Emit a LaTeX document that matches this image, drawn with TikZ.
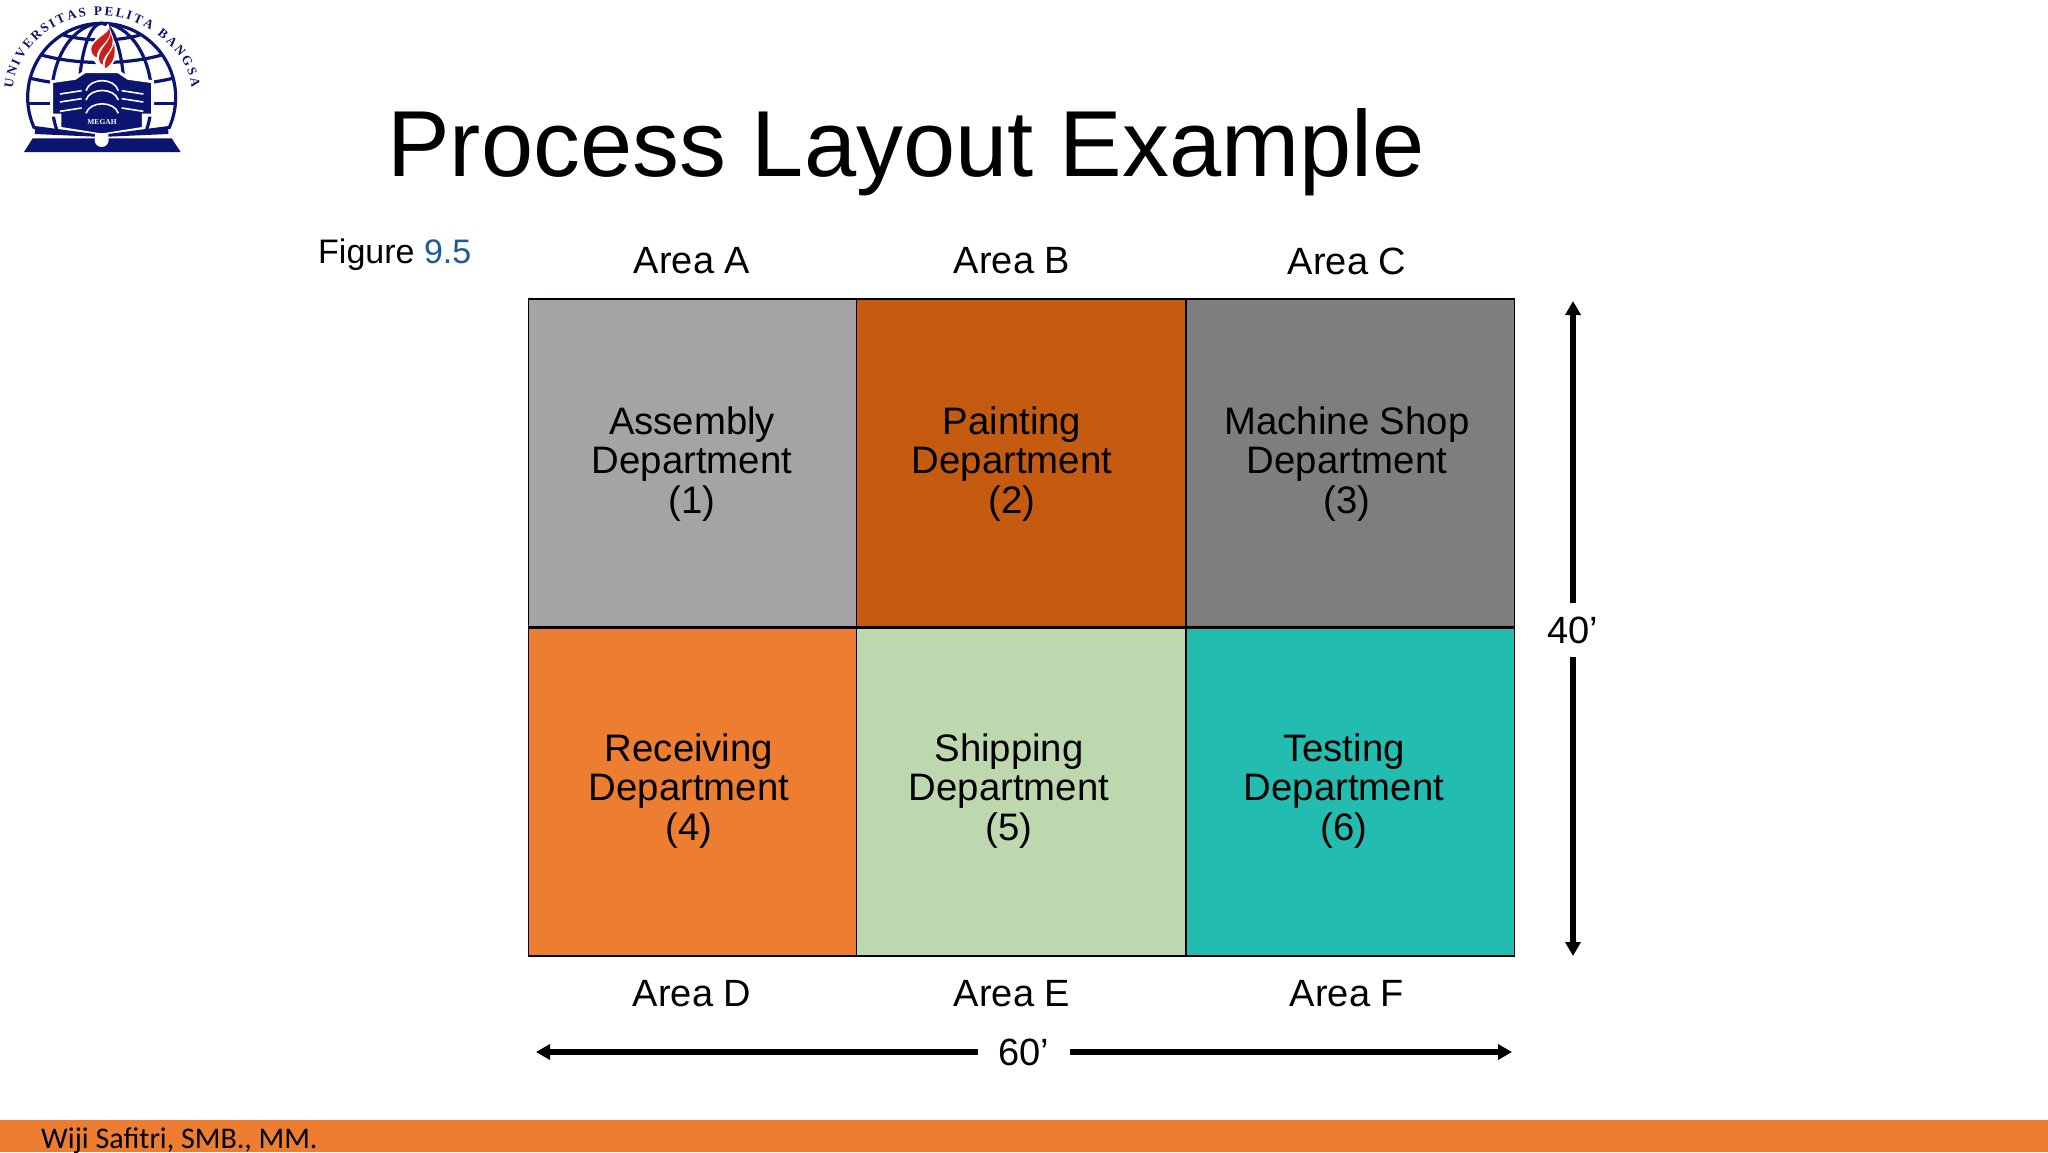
\documentclass[tikz,border=0pt]{standalone}
\usepackage{fontspec}
\setmainfont{Liberation Sans}
\newfontfamily\footfont{Carlito}
\newfontfamily\logofont{Liberation Serif}
\usetikzlibrary{
  arrows.meta,
  decorations.text
}
\definecolor{assembly}{HTML}{A5A3A6}
\definecolor{painting}{HTML}{C55A11}
\definecolor{machine}{HTML}{7F7D80}
\definecolor{receiving}{HTML}{ED7D31}
\definecolor{shipping}{HTML}{BDD7AE}
\definecolor{testing}{HTML}{22BDB0}
\definecolor{logonavy}{HTML}{0B1470}
\definecolor{logored}{HTML}{C8201C}
\definecolor{figblue}{HTML}{1F5A96}

\begin{document}
\begin{tikzpicture}[
  x=1pt, y=-1pt,
  cell/.style={draw=black, line width=1.3pt, minimum width=328.5pt, minimum height=328pt,
               inner sep=0pt},
  dept/.style={align=center, font=\fontsize{38.3}{39.2}\selectfont, text=black},
  area/.style={font=\fontsize{38}{40}\selectfont, text=black},
  dim/.style={font=\fontsize{38}{40}\selectfont, inner sep=0pt},
  arr/.style={-{Stealth[length=14pt, width=15pt, inset=0pt]}, line width=6.5pt, black},
  globe/.style={draw=logonavy, line width=3.2pt},
  page/.style={line width=1.6pt, white}
]
  \useasboundingbox (0,0) rectangle (2048,1152);

  % Logo
  \begin{scope}[scale=1/3]
    \begin{scope}
      \clip (60,40) rectangle (560,385);
      \draw[globe] (305,292) circle [x radius=222, y radius=222];
      \draw[globe] (305,292) circle [x radius=150, y radius=222];
      \draw[globe] (305,292) circle [x radius=68, y radius=222];
      \draw[globe] (190,105) .. controls (260,125) and (350,125) .. (420,105);
      \draw[globe] (125,165) .. controls (230,195) and (380,195) .. (485,165);
      \draw[globe] (92,235) .. controls (220,265) and (390,265) .. (518,235);
      \draw[globe] (85,310) -- (525,310);
    \end{scope}
    % book
    \fill[logonavy, draw=white, line width=3pt] (155,245) -- (225,235) -- (255,215) -- (355,215)
      -- (385,235) -- (458,245) -- (458,345) -- (430,345) -- (430,385) -- (305,405)
      -- (180,385) -- (180,345) -- (155,345) -- cycle;
    \draw[page] (180,282) -- (245,272) (180,306) -- (245,296) (180,334) -- (245,324);
    \draw[page] (365,272) -- (430,282) (365,296) -- (430,306) (365,324) -- (430,334);
    \draw[page] (258,272) .. controls (270,232) and (343,232) .. (355,272);
    \draw[page] (258,300) .. controls (270,262) and (343,262) .. (355,300);
    \draw[page] (258,340) .. controls (270,302) and (343,302) .. (355,340);
    \fill[logonavy] (105,378) -- (285,402) -- (285,410) -- (105,402) -- cycle;
    \fill[logonavy] (505,378) -- (325,402) -- (325,410) -- (505,402) -- cycle;
    \fill[logonavy] (72,456) -- (98,415) -- (515,415) -- (542,456) -- cycle;
    \fill[white] (305,420) circle [radius=21];
    % flame
    \fill[white] (325,70) .. controls (335,110) and (360,150) .. (345,180) .. controls (335,205) and (300,215) .. (280,180)
      .. controls (250,150) and (290,110) .. (325,70) -- cycle;
    \fill[logored] (328,74) .. controls (335,100) and (295,105) .. (275,140) .. controls (270,155) and (280,168) .. (290,172)
      .. controls (290,140) and (325,130) .. (330,100) -- cycle;
    \fill[logored] (332,100) .. controls (330,130) and (295,145) .. (297,178) .. controls (298,188) and (303,192) .. (308,195)
      .. controls (305,165) and (340,155) .. (338,120) -- cycle;
    \fill[logored] (342,130) .. controls (340,155) and (310,170) .. (315,205) .. controls (335,195) and (350,170) .. (342,130) -- cycle;
    \path[postaction={decorate, decoration={text along path, text align=fit to path,
        text={|\logofont\bfseries\fontsize{13}{14}\selectfont\color{logonavy}|UNIVERSITAS PELITA BANGSA}}}]
      (38,265) .. controls (50,150) and (160,45) .. (300,45) .. controls (430,45) and (565,150) .. (575,262);
  \end{scope}
  \node[font=\logofont\bfseries\fontsize{7.5}{8}\selectfont, text=white, inner sep=0pt] (megah) at (102,122) {MEGAH};

  % Title
  \node[anchor=west, font=\fontsize{93.8}{96}\selectfont, inner sep=0pt] (title) at (387,152) {Process Layout Example};
  \node[anchor=west, font=\fontsize{34}{36}\selectfont, inner sep=0pt] (figlabel) at (318,255) {Figure \textcolor{figblue}{9.5}};

  % Departments
  \node[cell, fill=assembly] (assemblycell) at (693,463) {};
  \node[cell, fill=painting] (paintingcell) at (1021,463) {};
  \node[cell, fill=machine] (machinecell) at (1350.5,463) {};
  \node[cell, fill=receiving] (receivingcell) at (693,792) {};
  \node[cell, fill=shipping] (shippingcell) at (1021,792) {};
  \node[cell, fill=testing] (testingcell) at (1350.5,792) {};

  \node[dept] (assembly) at (692,464) {Assembly\\Department\\(1)};
  \node[dept] (painting) at (1012,464) {Painting\\Department\\(2)};
  \node[dept] (machine) at (1347,464) {Machine Shop\\Department\\(3)};
  \node[dept] (receiving) at (689,791) {Receiving\\Department\\(4)};
  \node[dept] (shipping) at (1009,791) {Shipping\\Department\\(5)};
  \node[dept] (testing) at (1344,791) {Testing\\Department\\(6)};

  % Areas
  \node[area] (areaA) at (692,261) {Area A};
  \node[area] (areaB) at (1012,261) {Area B};
  \node[area] (areaC) at (1347,261) {Area C};
  \node[area] (areaD) at (692,994) {Area D};
  \node[area] (areaE) at (1012,994) {Area E};
  \node[area] (areaF) at (1347,994) {Area F};

  % Dimensions
  \node[dim, minimum height=53pt] (height) at (1573,630) {40’};
  \coordinate (heighttop) at (1573,301);
  \coordinate (heightbottom) at (1573,956);
  \draw[arr] (height) -- (heighttop);
  \draw[arr] (height) -- (heightbottom);

  \node[dim, minimum width=91pt] (width) at (1024,1052) {60’};
  \coordinate (widthleft) at (536,1052);
  \coordinate (widthright) at (1512,1052);
  \draw[arr] (width) -- (widthleft);
  \draw[arr] (width) -- (widthright);

  % Footer
  \fill[receiving] (0,1120) rectangle (2048,1152);
  \node[anchor=base west, font=\footfont\fontsize{30}{32}\selectfont, inner sep=0pt] (footer) at (41,1148) {Wiji Safitri, SMB., MM.};
\end{tikzpicture}
\end{document}
